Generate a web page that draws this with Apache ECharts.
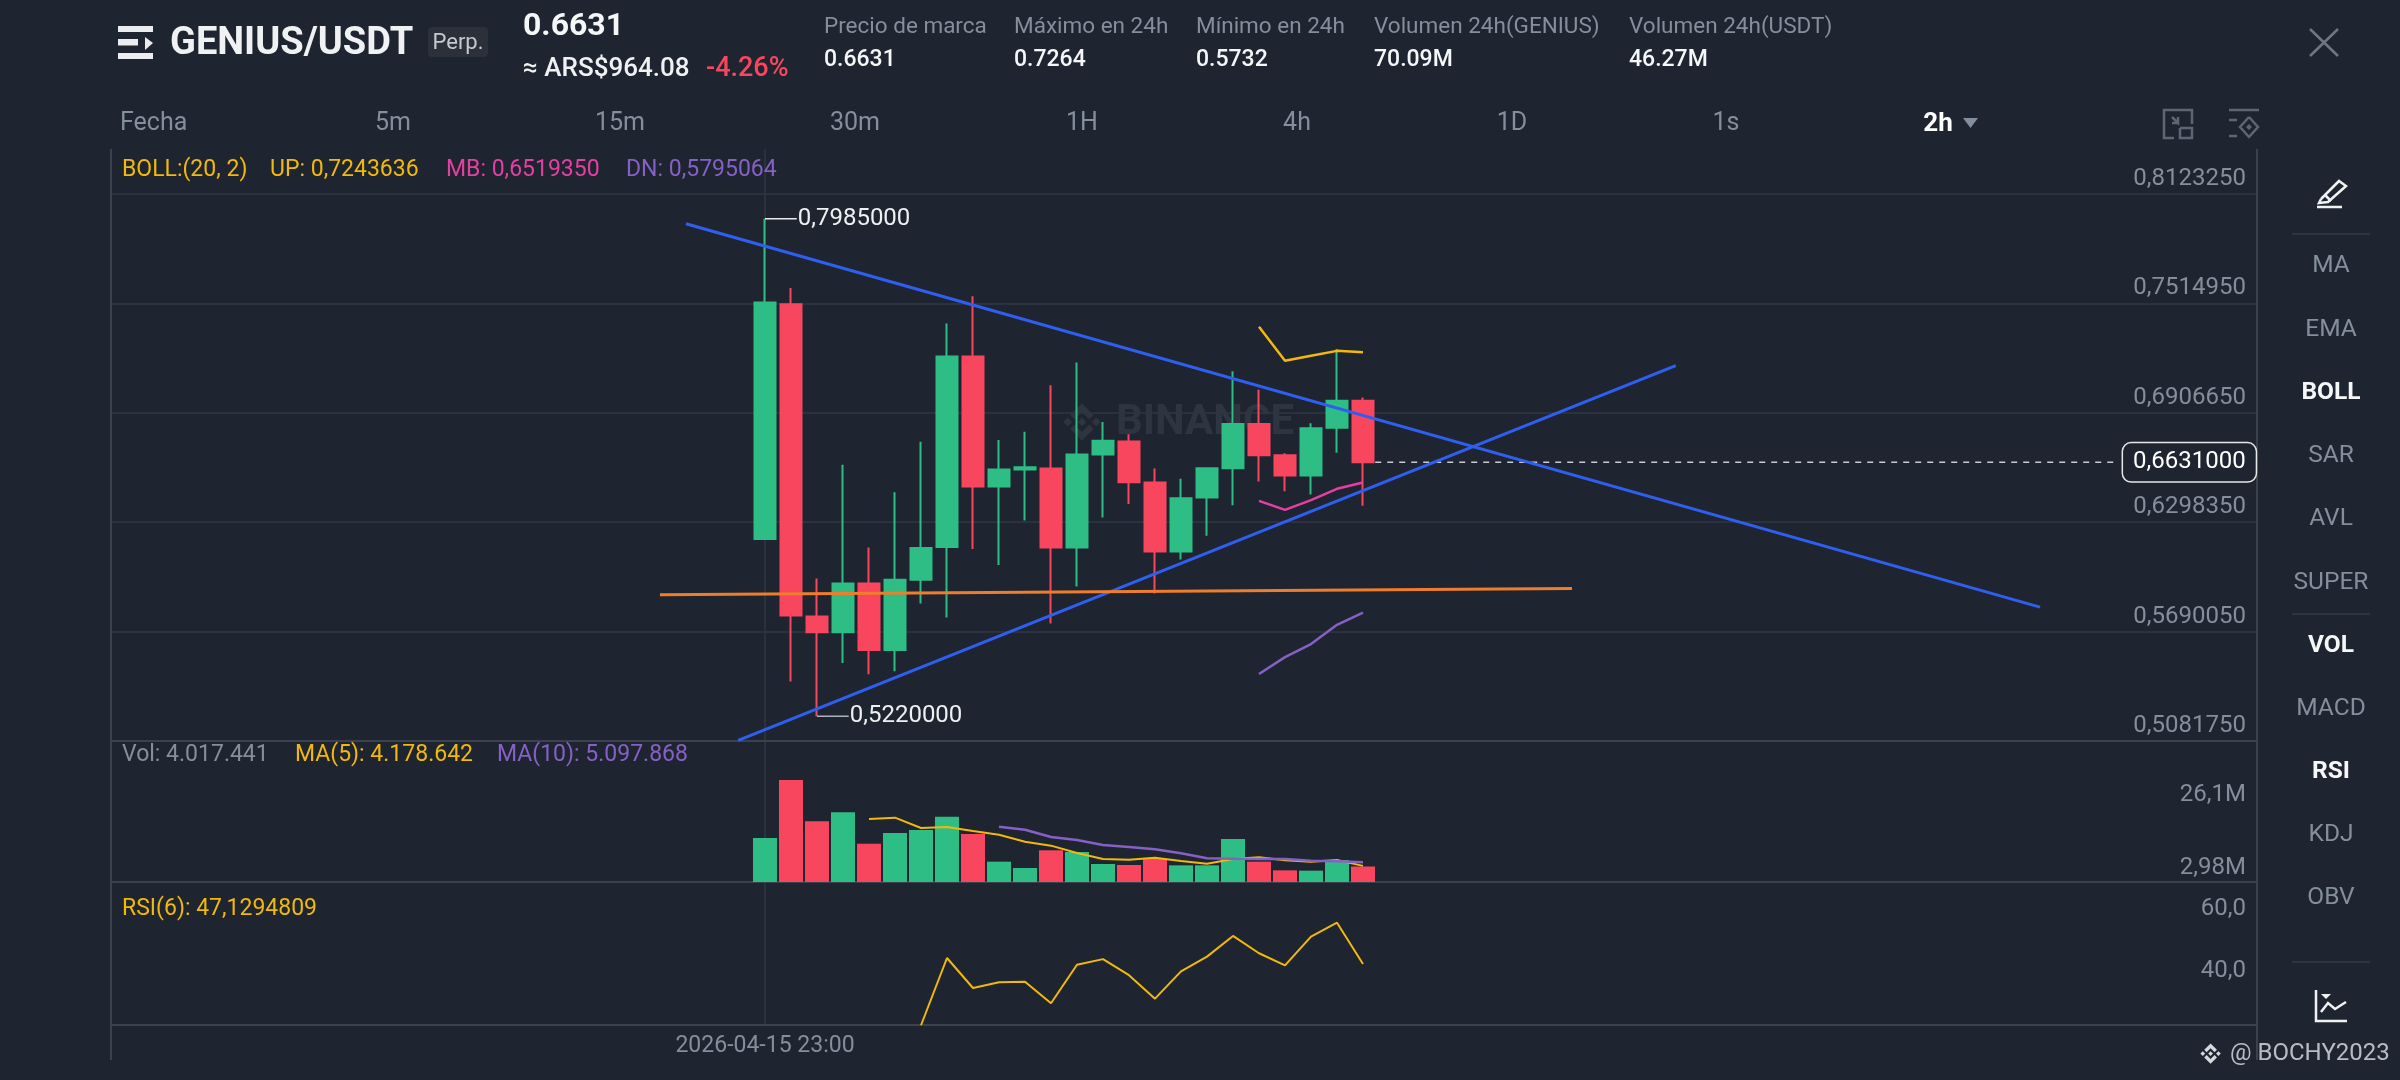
<!DOCTYPE html>
<html><head><meta charset="utf-8">
<style>html,body{margin:0;padding:0;background:#1f2530}#c{width:2400px;height:1080px}</style>
<script src="https://cdn.jsdelivr.net/npm/echarts@6/dist/echarts.min.js"></script>
</head><body><div id="c"></div>
<script>
// ---- data ----
const opens  = [0.6205,0.7510,0.5774,0.5687,0.5957,0.5588,0.5979,0.6161,0.7220,0.6497,0.6592,0.6597,0.6158,0.6675,0.6747,0.6519,0.6136,0.6436,0.6599,0.6844,0.6671,0.6558,0.6823,0.6973];
const closes = [0.7520,0.5780,0.5687,0.5957,0.5588,0.5979,0.6155,0.7220,0.6497,0.6592,0.6604,0.6158,0.6675,0.6751,0.6521,0.6136,0.6432,0.6599,0.6844,0.6671,0.6558,0.6821,0.6973,0.6631];
const lows   = [0.6205,0.5413,0.5220,0.5516,0.5453,0.5469,0.5846,0.5768,0.6150,0.6060,0.6308,0.5735,0.5941,0.6325,0.6399,0.5902,0.6091,0.6223,0.6393,0.6525,0.6471,0.6453,0.6684,0.6390];
const highs  = [0.7985,0.7601,0.5985,0.6618,0.6157,0.6465,0.6745,0.7403,0.7555,0.6755,0.6801,0.7060,0.7187,0.6855,0.6788,0.6597,0.6540,0.6599,0.7138,0.7035,0.6682,0.6849,0.7261,0.6992];
const volumes= [11.40,26.44,15.72,18.06,9.94,12.70,13.48,16.93,12.44,5.27,3.63,8.21,7.78,4.67,4.41,5.96,4.32,4.32,11.15,5.27,3.02,2.94,5.70,4.017];
const bollUp = [0.7385,0.7196,0.7224,0.7251,0.7244];
const bollMb = [0.6417,0.6367,0.6421,0.6484,0.6519];
const bollDn = [0.5454,0.5548,0.5621,0.5728,0.5795];
const bollStart = 19;
const volMa5 = [16.33,16.68,14.0,14.26,13.22,12.27,10.45,9.42,7.52,5.96,5.79,6.31,5.44,4.75,5.96,6.39,5.62,5.27,5.70,4.18];
const volMa5Start = 4;
const volMa10= [14.34,13.56,11.66,10.89,9.59,9.07,8.47,7.43,6.13,6.05,5.96,5.96,5.53,5.36,5.098];
const volMa10Start = 9;
const rsi6 = [27.3,49.06,39.35,41.2,41.4,34.4,46.9,48.7,43.5,35.9,44.75,49.5,56.2,50.6,46.7,56,60.5,47.13];
const rsiStart = 6;
const trendDown = [[-3.04,0.79581],[49.04,0.58264]];
const trendUp   = [[-1.03,0.5085],[35.03,0.71686]];
const trendFlat = [[-4.04,0.58953],[31.04,0.5930]];
const priceTicks = [0.812325,0.751495,0.690665,0.629835,0.569005,0.508175];
const volTicks = [26.1,2.98];
const rsiTicks = [60,40];
const timeTick = 0;
const timeLabel = '2026-04-15 23:00';
const lastPrice = 0.6631;
const highPoint = [0,0.7985], lowPoint = [2,0.5220];

const statLabels = ['Precio de marca','Máximo en 24h','Mínimo en 24h','Volumen 24h(GENIUS)','Volumen 24h(USDT)'];
const statValues = ['0.6631','0.7264','0.5732','70.09M','46.27M'];
const tabs = ['Fecha','5m','15m','30m','1H','4h','1D','1s'];
const tools = ['MA','EMA','BOLL','SAR','AVL','SUPER','VOL','MACD','RSI','KDJ','OBV'];
const activeTools = ['BOLL','VOL','RSI'];

// ---- style ----
const BG='#1f2530', GREEN='#2ebd85', RED='#f9465f', YEL='#f0b90b', MAG='#e63fa4', PUR='#8561c5', BLUE='#2f5ff0', ORG='#ef7d2c';
const GRID='#2c323d', AXIS='#3b424e', GREY='#848e9c', WHITE='#eaecef';
const F='Roboto, "Noto Sans", sans-serif';
const XMIN=-25.154, XMAX=57.385;

const xAxisBase = i => ({gridIndex:i,type:'value',min:XMIN,max:XMAX,
  axisLine:{show:true,onZero:false,lineStyle:{color:AXIS,width:2}},
  axisTick:{show:false,customValues:[timeTick]},
  axisLabel:{show:false,customValues:[timeTick]},
  splitLine:{show:true,lineStyle:{color:GRID,width:2}}});
const pts = (arr,start)=>arr.map((v,k)=>[start+k,v]);
const ln = (name,data,color,x,extra)=>Object.assign({name,type:'line',xAxisIndex:x,yAxisIndex:x,data,symbol:'none',smooth:false,silent:true,
  lineStyle:{color,width:2.5},z:5,animation:false},extra||{});
const comma = (v,d)=>v.toFixed(d).replace('.',',');

// ---- overlay ui ----
const g=[];
const T=(text,x,y,size,color,o)=>g.push({type:'text',x,y,z:(o&&o.z)||20,silent:true,style:{text,fontSize:size,fill:color,fontFamily:F,verticalAlign:'middle',align:(o&&o.align)||'left',fontWeight:(o&&o.w)||400}});
const R=(x,y,w,h,fill,r)=>g.push({type:'rect',z:19,silent:true,shape:{x,y,width:w,height:h,r:r||0},style:{fill}});
const L=(x1,y1,x2,y2,c,w)=>g.push({type:'line',z:1,silent:true,shape:{x1,y1,x2,y2},style:{stroke:c,lineWidth:w||2}});
const PG=(p,x,y,s,fill,z)=>g.push({type:'polygon',z:z||20,silent:true,shape:{points:p.map(q=>[x+q[0]*s,y+q[1]*s])},style:{fill}});
const PL=(p,x,y,s,stroke,lw)=>g.push({type:'polyline',z:20,silent:true,shape:{points:p.map(q=>[x+q[0]*s,y+q[1]*s])},style:{stroke,lineWidth:lw||2.5,fill:'none'}});
const BNB=[[[16,4],[23.5,11.5],[20.7,14.3],[16,9.6],[11.3,14.3],[8.5,11.5]],[[16,28],[8.5,20.5],[11.3,17.7],[16,22.4],[20.7,17.7],[23.5,20.5]],[[4,16],[6.8,13.2],[9.6,16],[6.8,18.8]],[[28,16],[25.2,13.2],[22.4,16],[25.2,18.8]],[[16,13.2],[18.8,16],[16,18.8],[13.2,16]]];

// logo
R(118,26,35,6,WHITE); R(118,39,20,6.5,WHITE); R(118,53,35,6,WHITE);
PG([[145,37],[153,43],[145,50]],0,0,1,WHITE);
T('GENIUS/USDT',170,44,38,'#f0f1f3',{w:700});
R(428,27,60,30,'#2b303b',4);
T('Perp.',458,43,22,'#c5c8ce',{align:'center'});
T('0.6631',523,27,32,'#f5f6f7',{w:700});
T('≈ ARS$964.08',523,69,26,'#f0f1f3',{w:500});
T('-4.26%',706,69,27,RED,{w:500});
const statX=[824,1014,1196,1374,1629];
statLabels.forEach((s,i)=>{T(s,statX[i],27,22.5,GREY);T(statValues[i],statX[i],60,23,'#f5f6f7',{w:500});});
const tabX=[120,393,620,855,1082,1297,1512,1726];
tabs.forEach((s,i)=>T(s,tabX[i],124,25,GREY,{align:i?'center':'left'}));
T('2h',1938,124,26,'#ffffff',{align:'center',w:700});
PG([[1963,118],[1978,118],[1970.5,128]],0,0,1,GREY);
// top-right icons
PL([[14,0],[0,0],[0,28],[10,28]],2164,110,1,'#5e6673');
PL([[14,0],[28,0],[28,14]],2164,110,1,'#5e6673');
PL([[16,18],[28,18],[28,28],[16,28],[16,18]],2164,110,1,'#5e6673');
PL([[8,7],[14,13],[14,7]],2164,110,1,'#5e6673');
PL([[8,13],[14,13]],2164,110,1,'#5e6673');
PL([[0,0],[30,0]],2229,110,1,'#5e6673');
PL([[0,10],[8,10]],2229,110,1,'#5e6673');
PL([[0,26],[8,26]],2229,110,1,'#5e6673');
PL([[20,7],[29,17],[20,27],[11,17],[20,7]],2229,110,1,'#5e6673');
PG([[20,14],[23,17],[20,20],[17,17]],2229,110,1,'#5e6673');
PL([[0,0],[28,27]],2310,29,1,'#6f7784');
PL([[28,0],[0,27]],2310,29,1,'#6f7784');
// legends
T('BOLL:(20, 2)',122,170,23,YEL); T('UP: 0,7243636',270,170,23,YEL); T('MB: 0,6519350',446,170,23,MAG); T('DN: 0,5795064',626,170,23,PUR);
T('Vol: 4.017.441',122,755,23,GREY); T('MA(5): 4.178.642',295,755,23,YEL); T('MA(10): 5.097.868',497,755,23,PUR);
T('RSI(6): 47,1294809',122,909,23,YEL);
// frame
L(111,149,111,1060,AXIS,2); L(2257,149,2257,1060,AXIS,2);
// toolbar
const toolY=[266,330,393,456,519,583,646,709,772,835,898];
tools.forEach((s,i)=>{const a=activeTools.includes(s);T(s,2331,toolY[i],24.5,a?'#f5f6f7':GREY,{align:'center',w:a?700:400});});
[234,614,962].forEach(y=>L(2292,y,2370,y,'#2f3540',2));
PL([[4,22],[22,4],[29,9],[11,25],[2,26],[4,22]],2317,177,1,'#f0f1f3');
PL([[8,18],[14,24]],2317,177,1,'#f0f1f3');
PL([[0,30],[25,30]],2317,177,1,'#f0f1f3');
PL([[1,0],[1,31],[32,31]],2315,990,1,'#f0f1f3');
PL([[6,22],[13,13],[20,19],[31,12]],2315,990,1,'#f0f1f3');
PG([[6,4],[16,4],[11,9]],2315,990,1,'#f0f1f3');
// watermarks
BNB.forEach(p=>PG(p,1057,397,1.56,'#2e3440',1));
T('BINANCE',1116,423,42,'#2e3440',{w:700,z:1});
BNB.forEach(p=>PG(p,2197,1040,0.85,'#d5d8dc'));
T('@ BOCHY2023',2230,1054,24,'#b8bcc4');

const chart = echarts.init(document.getElementById('c'),null,{width:2400,height:1080});
chart.setOption({
  backgroundColor:BG, animation:false,
  grid:[
    {left:111,width:2146,top:149,height:592},
    {left:111,width:2146,top:741,height:141},
    {left:111,width:2146,top:882,height:143}
  ],
  xAxis:[xAxisBase(0),xAxisBase(1),Object.assign(xAxisBase(2),{
    axisLabel:{show:true,customValues:[timeTick],formatter:()=>timeLabel,color:GREY,fontSize:23,fontFamily:F,margin:10}})],
  yAxis:[
    {gridIndex:0,type:'value',position:'right',min:0.508175,max:0.837345,
     axisLine:{show:false},axisTick:{show:false,customValues:priceTicks},
     axisLabel:{inside:true,margin:11,customValues:priceTicks,verticalAlign:'bottom',padding:[0,0,3,0],color:GREY,fontSize:24,fontFamily:F,formatter:v=>comma(v,7)},
     splitLine:{show:true,lineStyle:{color:GRID,width:2}}},
    {gridIndex:1,type:'value',position:'right',min:0,max:36.55,
     axisLine:{show:false},axisTick:{show:false,customValues:volTicks},
     axisLabel:{inside:true,margin:11,customValues:volTicks,color:GREY,fontSize:24,fontFamily:F,verticalAlign:'middle',
       formatter:v=>(v>10?'{a|':'{b|')+comma(v,v>10?1:2)+'M}',
       rich:{a:{padding:[28,0,0,0],color:GREY,fontSize:24,fontFamily:F},b:{padding:[0,0,6,0],color:GREY,fontSize:24,fontFamily:F}}},
     splitLine:{show:false}},
    {gridIndex:2,type:'value',position:'right',min:27.38,max:73.66,
     axisLine:{show:false},axisTick:{show:false,customValues:rsiTicks},
     axisLabel:{inside:true,margin:11,customValues:rsiTicks,verticalAlign:'bottom',padding:[0,0,3,0],color:GREY,fontSize:24,fontFamily:F,formatter:v=>comma(v,1)},
     splitLine:{show:false}}
  ],
  graphic:{elements:g},
  series:[
    {name:'Precio',type:'candlestick',xAxisIndex:0,yAxisIndex:0,barWidth:22,silent:true,z:3,
     data:opens.map((o,i)=>[i,o,closes[i],lows[i],highs[i]]),
     itemStyle:{color:GREEN,color0:RED,borderColor:GREEN,borderColor0:RED,borderWidth:2}},
    ln('UP',pts(bollUp,bollStart),YEL,0),
    ln('MB',pts(bollMb,bollStart),MAG,0),
    ln('DN',pts(bollDn,bollStart),PUR,0),
    ln('Trend down',trendDown,BLUE,0,{z:6,lineStyle:{color:BLUE,width:3}}),
    ln('Trend up',trendUp,BLUE,0,{z:6,lineStyle:{color:BLUE,width:3}}),
    ln('Trend flat',trendFlat,ORG,0,{z:6,lineStyle:{color:ORG,width:3}}),
    ln('Last price',[[23.47,lastPrice],[52.08,lastPrice]],'#c8ccd2',0,{z:4,lineStyle:{color:'#c8ccd2',width:1.5,type:[6,6]},
      endLabel:{show:true,formatter:()=>comma(lastPrice,7),distance:4,color:'#ffffff',fontSize:24,fontFamily:F,backgroundColor:BG,borderColor:'#e6e8ea',borderWidth:1.5,borderRadius:8,padding:[7,10,7,10]}}),
    ln('High',[highPoint,[highPoint[0]+1.22,highPoint[1]]],'#eaecef',0,{lineStyle:{color:'#eaecef',width:1.5},
      endLabel:{show:true,formatter:()=>comma(highPoint[1],7),distance:1,color:'#eef0f2',fontSize:24,fontFamily:F}}),
    ln('Low',[lowPoint,[lowPoint[0]+1.22,lowPoint[1]]],'#aeb3ba',0,{lineStyle:{color:'#aeb3ba',width:1.5},
      endLabel:{show:true,formatter:()=>comma(lowPoint[1],7),distance:1,color:'#eef0f2',fontSize:24,fontFamily:F}}),
    {name:'Vol',type:'bar',xAxisIndex:1,yAxisIndex:1,barWidth:24,silent:true,z:3,
     data:volumes.map((v,i)=>({value:[i,v],itemStyle:{color:closes[i]>=opens[i]?GREEN:RED}}))},
    ln('MA5',pts(volMa5,volMa5Start),YEL,1,{lineStyle:{color:YEL,width:2}}),
    ln('MA10',pts(volMa10,volMa10Start),PUR,1,{lineStyle:{color:PUR,width:2.5}}),
    ln('RSI6',pts(rsi6,rsiStart),YEL,2,{lineStyle:{color:YEL,width:2}})
  ]
});
</script></body></html>
